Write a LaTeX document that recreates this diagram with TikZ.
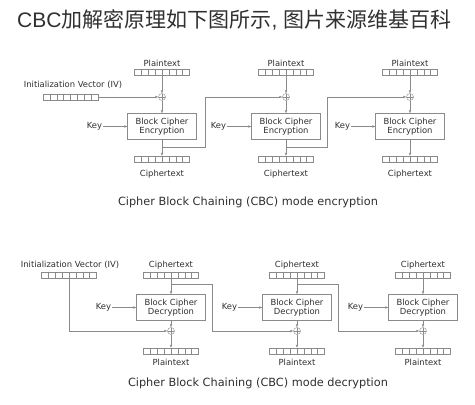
\documentclass[tikz,border=0pt]{standalone}
\usepackage{fontspec}
\setmainfont{DejaVu Sans}
\newfontfamily\cjkfont{Noto Sans CJK SC}
\newfontfamily\arialfont{Liberation Sans}
\usetikzlibrary{positioning,arrows.meta}
\definecolor{linegray}{HTML}{8A8A8A}
\definecolor{textdark}{HTML}{303030}
\tikzset{
    label-text/.style = {text=textdark, font=\fontsize{8.4}{9.6}\selectfont, inner sep=1pt},
    caption-text/.style = {text=textdark, font=\fontsize{11.3}{13}\selectfont, inner sep=1pt},
    cipher-box/.style = {draw=linegray, thin, rectangle, minimum width=69pt, minimum height=26pt, inner sep=2pt, align=center, label-text},
    reg-box/.style = {draw=linegray, thin, rectangle, minimum width=55pt, minimum height=6pt, inner sep=0pt,
        path picture={\foreach \i in {1,...,7}{\draw[linegray, thin] (path picture bounding box.south west) ++(\i*55pt/8,0) -- ++(0,6pt);}}},
    xor-node/.style = {draw=linegray, thin, circle, minimum size=7pt, inner sep=0pt,
        path picture={\draw[linegray, thin] (path picture bounding box.north) -- (path picture bounding box.south)
            (path picture bounding box.west) -- (path picture bounding box.east);}},
    flow-arrow/.style = {draw=linegray, thin, -{Latex[length=3pt, width=2.6pt]}},
}
\begin{document}
\begin{tikzpicture}[x=1pt, y=-1pt]
\useasboundingbox[fill=white] (0,0) rectangle (475,405);
\node[anchor=west, text=textdark, font=\fontsize{21}{25}\selectfont, inner sep=0pt] (title) at (17,20)
    {{\arialfont CBC}{\cjkfont 加解密原理如下图所示}{\arialfont , }{\cjkfont 图片来源维基百科}};

% encryption
\node[label-text] (iv) at (73,85) {Initialization Vector (IV)};
\node[reg-box] (ivr) at (70.5,97) {};
\node[label-text] (pt1) at (162,63) {Plaintext};
\node[reg-box] (pr1) at (162,72) {};
\node[xor-node] (x1) at (162,97) {};
\node[cipher-box] (enc1) at (162,126.5) {Block Cipher\\Encryption};
\node[reg-box] (cr1) at (162,159) {};
\node[label-text] (ct1) at (162,174) {Ciphertext};
\node[label-text, left=24pt of enc1] (k1) {Key};

\node[label-text] (pt2) at (286,63) {Plaintext};
\node[reg-box] (pr2) at (286,72) {};
\node[xor-node] (x2) at (286,97) {};
\node[cipher-box] (enc2) at (286,126.5) {Block Cipher\\Encryption};
\node[reg-box] (cr2) at (286,159) {};
\node[label-text] (ct2) at (286,174) {Ciphertext};
\node[label-text, left=24pt of enc2] (k2) {Key};

\node[label-text] (pt3) at (410,63) {Plaintext};
\node[reg-box] (pr3) at (410,72) {};
\node[xor-node] (x3) at (410,97) {};
\node[cipher-box] (enc3) at (410,126.5) {Block Cipher\\Encryption};
\node[reg-box] (cr3) at (410,159) {};
\node[label-text] (ct3) at (410,174) {Ciphertext};
\node[label-text, left=24pt of enc3] (k3) {Key};

\coordinate (t1) at (205,147);
\coordinate (t2) at (327,147);
\draw[flow-arrow] (ivr) -- (x1);
\draw[flow-arrow] (pr1) -- (x1); \draw[flow-arrow] (x1) -- (enc1); \draw[flow-arrow] (enc1) -- (cr1);
\draw[flow-arrow] (pr2) -- (x2); \draw[flow-arrow] (x2) -- (enc2); \draw[flow-arrow] (enc2) -- (cr2);
\draw[flow-arrow] (pr3) -- (x3); \draw[flow-arrow] (x3) -- (enc3); \draw[flow-arrow] (enc3) -- (cr3);
\draw[flow-arrow] (k1) -- (enc1);
\draw[flow-arrow] (k2) -- (enc2);
\draw[flow-arrow] (k3) -- (enc3);
\draw[flow-arrow] (enc1.south |- t1) -- (t1) |- (x2);
\draw[flow-arrow] (enc2.south |- t2) -- (t2) |- (x3);

\node[caption-text] (enccap) at (248,202) {Cipher Block Chaining (CBC) mode encryption};

% decryption
\node[label-text] (div) at (70,265) {Initialization Vector (IV)};
\node[reg-box] (divr) at (69,275.5) {};
\node[label-text] (dct1) at (171,265) {Ciphertext};
\node[reg-box] (dcr1) at (171,275.5) {};
\node[cipher-box] (dec1) at (171,307.5) {Block Cipher\\Decryption};
\node[xor-node] (dx1) at (171,331) {};
\node[reg-box] (dpr1) at (171,351) {};
\node[label-text] (dpt1) at (171,362) {Plaintext};
\node[label-text, left=24pt of dec1] (dk1) {Key};

\node[label-text] (dct2) at (297,265) {Ciphertext};
\node[reg-box] (dcr2) at (297,275.5) {};
\node[cipher-box] (dec2) at (297,307.5) {Block Cipher\\Decryption};
\node[xor-node] (dx2) at (297,331) {};
\node[reg-box] (dpr2) at (297,351) {};
\node[label-text] (dpt2) at (297,362) {Plaintext};
\node[label-text, left=24pt of dec2] (dk2) {Key};

\node[label-text] (dct3) at (423,265) {Ciphertext};
\node[reg-box] (dcr3) at (423,275.5) {};
\node[cipher-box] (dec3) at (423,307.5) {Block Cipher\\Decryption};
\node[xor-node] (dx3) at (423,331) {};
\node[reg-box] (dpr3) at (423,351) {};
\node[label-text] (dpt3) at (423,362) {Plaintext};
\node[label-text, left=24pt of dec3] (dk3) {Key};

\coordinate (dt1) at (212,284);
\coordinate (dt2) at (338,284);
\draw[flow-arrow] (divr) |- (dx1);
\draw[flow-arrow] (dcr1) -- (dec1); \draw[flow-arrow] (dec1) -- (dx1); \draw[flow-arrow] (dx1) -- (dpr1);
\draw[flow-arrow] (dcr2) -- (dec2); \draw[flow-arrow] (dec2) -- (dx2); \draw[flow-arrow] (dx2) -- (dpr2);
\draw[flow-arrow] (dcr3) -- (dec3); \draw[flow-arrow] (dec3) -- (dx3); \draw[flow-arrow] (dx3) -- (dpr3);
\draw[flow-arrow] (dk1) -- (dec1);
\draw[flow-arrow] (dk2) -- (dec2);
\draw[flow-arrow] (dk3) -- (dec3);
\draw[flow-arrow] (dcr1.south |- dt1) -- (dt1) |- (dx2);
\draw[flow-arrow] (dcr2.south |- dt2) -- (dt2) |- (dx3);

\node[caption-text] (deccap) at (258,383) {Cipher Block Chaining (CBC) mode decryption};
\end{tikzpicture}
\end{document}
